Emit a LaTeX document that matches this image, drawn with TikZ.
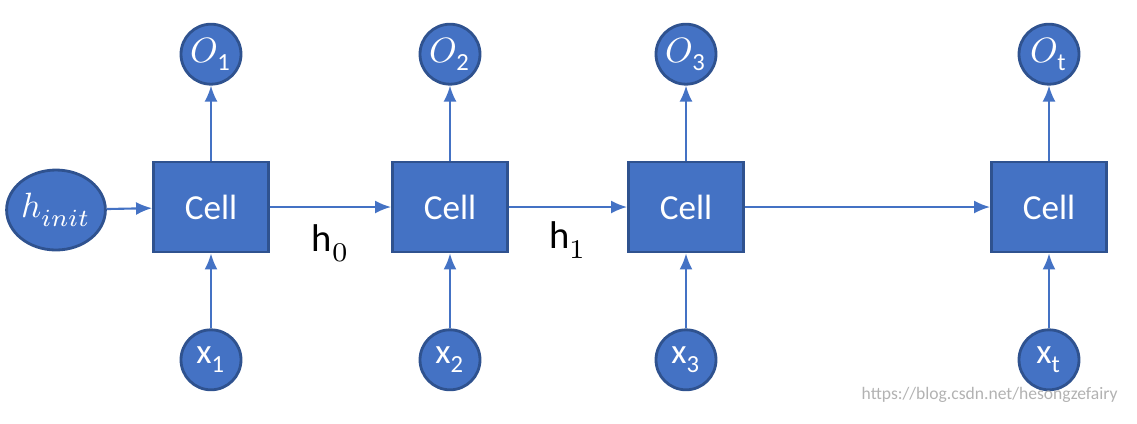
\documentclass[tikz,border=0pt]{standalone}
\usepackage{fontspec}
\setmainfont{Carlito}
\usepackage{unicode-math}
\setmathfont{Latin Modern Math}
\usetikzlibrary{arrows.meta,positioning,shapes.geometric}
\definecolor{cellblue}{HTML}{4472C4}
\definecolor{edgeblue}{HTML}{2F528F}
\tikzset{
cell/.style = {rectangle, draw=edgeblue, fill=cellblue, thick, text=white, minimum width=1.15cm, minimum height=0.9cm, font=\fontsize{10}{12}\selectfont},% rnn cell
io/.style = {circle, draw=edgeblue, fill=cellblue, thick, text=white, minimum size=0.6cm, inner sep=0pt, font=\fontsize{10}{12}\selectfont},% input/output
flow/.style = {-{Latex[length=1.6mm,width=1.3mm]}, cellblue, semithick}
}
\begin{document}
\begin{tikzpicture}
  \useasboundingbox (0,0) rectangle (11.37,4.23);
	\node [ellipse, draw=edgeblue, fill=cellblue, thick, text=white, minimum width=0.9cm, minimum height=0.8cm, inner sep=0pt, font=\fontsize{10}{12}\selectfont] (hinit) at (0.56,2.13) {$h_{init}$};
	\node [cell] (c1) at (2.11,2.16) {Cell};
	\node [cell] (c2) at (4.50,2.16) {Cell};
	\node [cell] (c3) at (6.86,2.16) {Cell};
	\node [cell] (c4) at (10.49,2.16) {Cell};
	\foreach \i/\lab in {1/1,2/2,3/3,4/t} {
	  \node [io, above=0.75cm of c\i] (o\i) {$O_{\mathrm{\lab}}$};
	  \node [io, below=0.75cm of c\i] (x\i) {$\mathrm{x}_{\mathrm{\lab}}$};
	  \draw [flow] (c\i) -- (o\i);
	  \draw [flow] (x\i) -- (c\i);
	}
	\draw [flow] (hinit) -- (c1);
	\draw [flow] (c1) -- node [below=0.05cm, black, font=\fontsize{11}{12}\selectfont] {$\mathrm{h}_0$} (c2);
	\draw [flow] (c2) -- node [below=0.02cm, black, font=\fontsize{11}{12}\selectfont] {$\mathrm{h}_1$} (c3);
	\draw [flow] (c3) -- (c4);
	\node [gray!60, font=\fontsize{5}{6}\selectfont, anchor=south east] (mark) at (11.3,0.08) {https://blog.csdn.net/hesongzefairy};
\end{tikzpicture}
\end{document}
